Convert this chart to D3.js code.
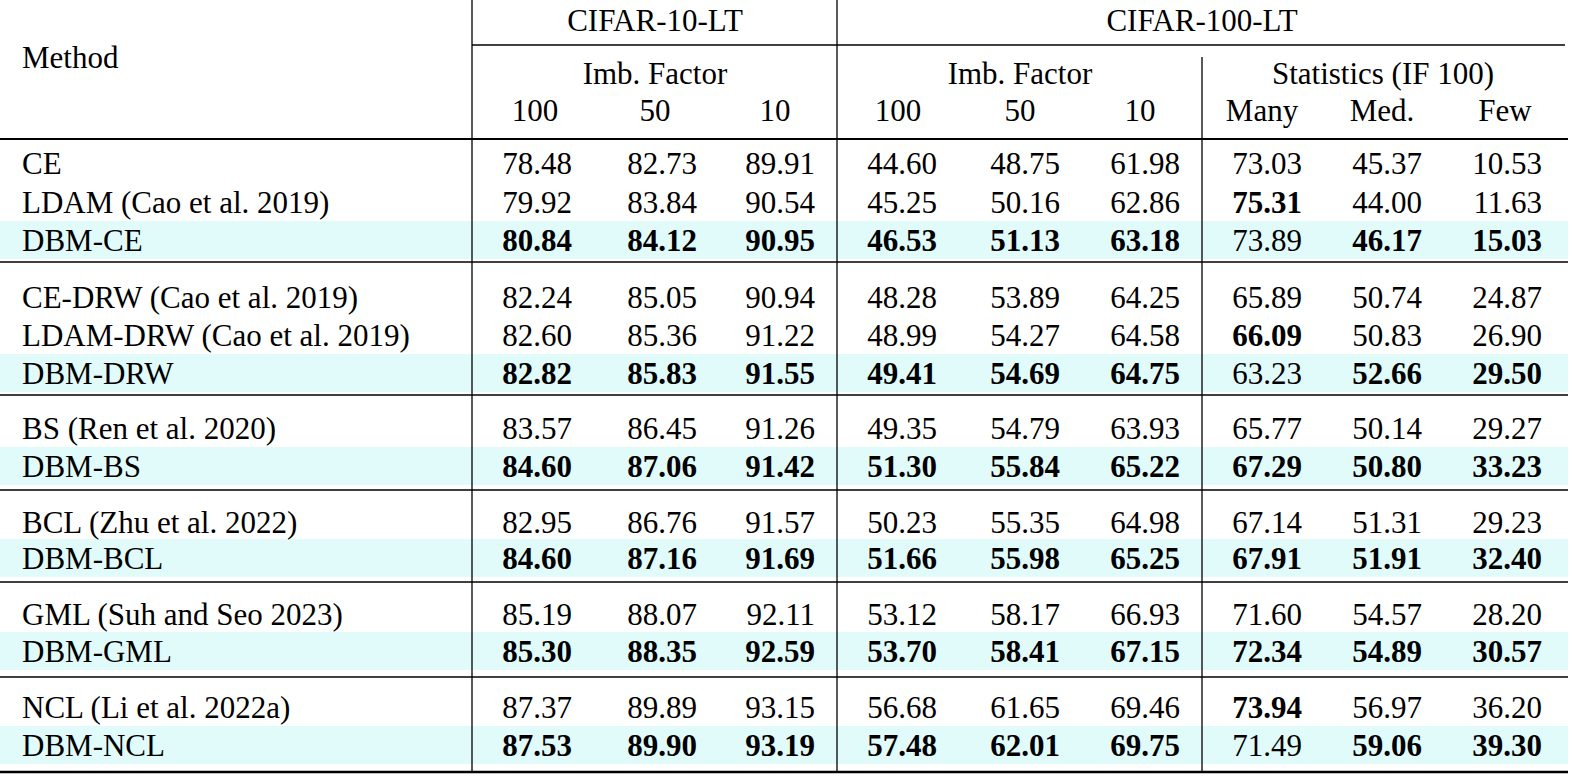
<!DOCTYPE html>
<html><head><meta charset="utf-8">
<script src="https://cdn.jsdelivr.net/npm/d3@7"></script>
<style>body{margin:0;background:#fff}svg{display:block}</style>
</head><body><svg id="c" width="1578" height="780"></svg>
<script>
const methods = ["CE","LDAM (Cao et al. 2019)","DBM-CE","CE-DRW (Cao et al. 2019)","LDAM-DRW (Cao et al. 2019)","DBM-DRW","BS (Ren et al. 2020)","DBM-BS","BCL (Zhu et al. 2022)","DBM-BCL","GML (Suh and Seo 2023)","DBM-GML","NCL (Li et al. 2022a)","DBM-NCL"];
const values = [
["78.48","82.73","89.91","44.60","48.75","61.98","73.03","45.37","10.53"],
["79.92","83.84","90.54","45.25","50.16","62.86","75.31","44.00","11.63"],
["80.84","84.12","90.95","46.53","51.13","63.18","73.89","46.17","15.03"],
["82.24","85.05","90.94","48.28","53.89","64.25","65.89","50.74","24.87"],
["82.60","85.36","91.22","48.99","54.27","64.58","66.09","50.83","26.90"],
["82.82","85.83","91.55","49.41","54.69","64.75","63.23","52.66","29.50"],
["83.57","86.45","91.26","49.35","54.79","63.93","65.77","50.14","29.27"],
["84.60","87.06","91.42","51.30","55.84","65.22","67.29","50.80","33.23"],
["82.95","86.76","91.57","50.23","55.35","64.98","67.14","51.31","29.23"],
["84.60","87.16","91.69","51.66","55.98","65.25","67.91","51.91","32.40"],
["85.19","88.07","92.11","53.12","58.17","66.93","71.60","54.57","28.20"],
["85.30","88.35","92.59","53.70","58.41","67.15","72.34","54.89","30.57"],
["87.37","89.89","93.15","56.68","61.65","69.46","73.94","56.97","36.20"],
["87.53","89.90","93.19","57.48","62.01","69.75","71.49","59.06","39.30"]];
const boldCells = ["1-6","4-6","12-6","2-0","2-1","2-2","2-3","2-4","2-5","2-7","2-8","5-0","5-1","5-2","5-3","5-4","5-5","5-7","5-8","7-0","7-1","7-2","7-3","7-4","7-5","7-6","7-7","7-8","9-0","9-1","9-2","9-3","9-4","9-5","9-6","9-7","9-8","11-0","11-1","11-2","11-3","11-4","11-5","11-6","11-7","11-8","13-0","13-1","13-2","13-3","13-4","13-5","13-7","13-8"];
const subHeaders = ["100","50","10","100","50","10","Many","Med.","Few"];
const topHeaders = ["CIFAR-10-LT","CIFAR-100-LT"];
const midHeaders = ["Imb. Factor","Imb. Factor","Statistics (IF 100)"];

const svg = d3.select("#c");
const F = "'Liberation Serif','Times New Roman',serif";
const rowY = [163,202,240,297,335,373,428,466,522,558,614,651,707,745];
const colRight = [572,697,815,937,1060,1180,1302,1422,1542];
const subX = [535,655,775,898,1020,1140,1262,1382,1505];
const hl = "#e1fbfb";
const y = d3.scaleOrdinal().domain(d3.range(methods.length)).range(rowY);
const x = d3.scaleOrdinal().domain(d3.range(9)).range(colRight);

methods.forEach((m,i)=>{ if(m.startsWith("DBM")) svg.append("rect").attr("x",0).attr("width",1568).attr("y",y(i)-19).attr("height",38).attr("fill",hl); });

const txt=(t,X,Y,anchor,bold)=>svg.append("text").attr("x",X).attr("y",Y).attr("text-anchor",anchor||"start").attr("dominant-baseline","central").attr("font-family",F).attr("font-size",31).attr("font-weight",bold?"bold":"normal").attr("fill","#000").text(t);

txt("Method",22,57);
txt(topHeaders[0],655,20,"middle");
txt(topHeaders[1],1202,20,"middle");
txt(midHeaders[0],655,73,"middle");
txt(midHeaders[1],1020,73,"middle");
txt(midHeaders[2],1383,73,"middle");
subHeaders.forEach((h,j)=>txt(h,subX[j],110,"middle"));

methods.forEach((m,i)=>{
  txt(m,22,y(i));
  values[i].forEach((v,j)=>txt(v,x(j),y(i),"end",boldCells.includes(i+"-"+j)));
});

const line=(x1,x2,yy,w)=>svg.append("line").attr("x1",x1).attr("x2",x2).attr("y1",yy).attr("y2",yy).attr("stroke","#000").attr("stroke-width",w);
const vline=(xx,y1,y2)=>svg.append("line").attr("x1",xx).attr("x2",xx).attr("y1",y1).attr("y2",y2).attr("stroke","#000").attr("stroke-width",1.3);
line(472,837,45,1.3); line(837,1565,45,1.3);
line(0,1568,139,2);
[262,395,490,582,677].forEach(v=>line(0,1568,v,1.5));
line(0,1568,772,2.5);
vline(472,0,772); vline(837,0,772); vline(1202,57,772);
</script></body></html>
